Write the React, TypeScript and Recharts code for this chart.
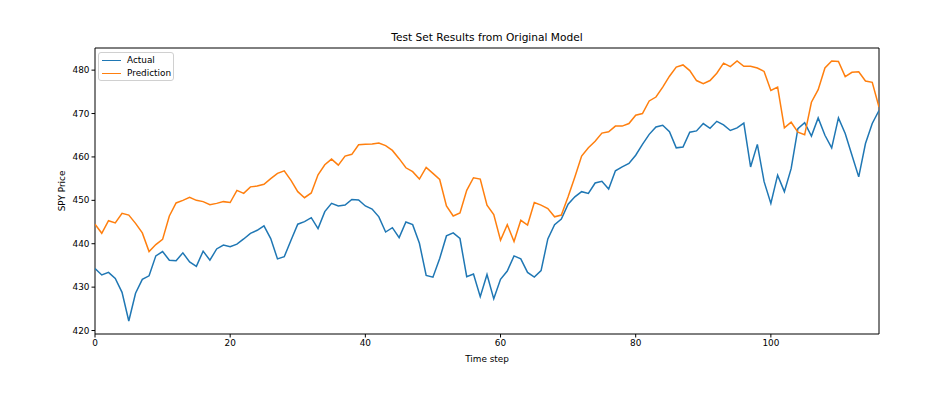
import { LineChart, Line, XAxis, YAxis, ReferenceArea } from "recharts"

const actual = [
  434.3, 432.8, 433.4, 432.0, 428.8, 422.2, 428.6, 431.8, 432.6, 437.2,
  438.2, 436.2, 436.1, 437.9, 435.8, 434.8, 438.3, 436.2, 438.8, 439.7,
  439.3, 439.9, 441.1, 442.4, 443.1, 444.1, 441.2, 436.5, 437.0, 440.8,
  444.5, 445.1, 446.0, 443.5, 447.4, 449.3, 448.7, 448.9, 450.2, 450.1,
  448.7, 448.0, 446.2, 442.7, 443.7, 441.4, 445.0, 444.4, 440.1, 432.7,
  432.3, 436.6, 441.8, 442.5, 441.2, 432.4, 433.0, 427.8, 432.9, 427.3,
  431.8, 433.7, 437.2, 436.5, 433.4, 432.3, 433.8, 441.1, 444.4, 445.7,
  449.1, 450.8, 452.0, 451.6, 454.0, 454.4, 452.6, 456.8, 457.7, 458.5,
  460.4, 462.9, 465.2, 466.9, 467.3, 465.8, 462.1, 462.3, 465.7, 466.0,
  467.7, 466.6, 468.2, 467.4, 466.1, 466.7, 467.8, 457.7, 462.9, 454.3,
  449.3, 455.8, 452.0, 457.3, 466.5, 467.9, 464.8, 469.0, 465.0, 462.1,
  469.0, 465.4, 460.4, 455.4, 463.1, 467.7, 470.7,
]

const prediction = [
  444.5, 442.4, 445.3, 444.8, 447.0, 446.6, 444.7, 442.5, 438.2, 439.8,
  441.0, 446.4, 449.4, 450.0, 450.7, 450.0, 449.7, 449.0, 449.3, 449.7,
  449.5, 452.3, 451.6, 453.1, 453.3, 453.7, 455.0, 456.2, 456.8, 454.6,
  452.0, 450.6, 451.7, 455.9, 458.2, 459.5, 458.1, 460.2, 460.6, 462.8,
  462.9, 463.0, 463.2, 462.6, 461.5, 459.6, 457.5, 456.6, 454.9, 457.6,
  456.2, 454.8, 448.7, 446.4, 447.1, 452.3, 455.2, 454.9, 448.9, 446.7,
  440.8, 444.4, 440.5, 445.4, 444.3, 449.5, 448.9, 448.1, 446.2, 446.6,
  450.8, 455.4, 460.2, 462.1, 463.6, 465.5, 465.8, 467.1, 467.1, 467.7,
  469.6, 470.0, 472.9, 473.8, 476.1, 478.6, 480.7, 481.2, 479.9, 477.6,
  476.9, 477.6, 479.3, 481.6, 480.8, 482.1, 480.9, 480.9, 480.5, 479.7,
  475.3, 476.1, 466.7, 468.0, 465.7, 465.1, 472.6, 475.5, 480.5, 482.1,
  482.0, 478.5, 479.5, 479.6, 477.5, 477.2, 471.5,
]

const xTicks = [0, 20, 40, 60, 80, 100]
const yTicks = [420, 430, 440, 450, 460, 470, 480]
const seriesNames = ["Actual", "Prediction"]

const BLUE = "#1f77b4"
const ORANGE = "#ff7f0e"
const FONT = "DejaVu Sans, sans-serif"
const SMALL = 8.9

const data = actual.map((v, i) => ({ step: i, actual: v, prediction: prediction[i] }))

// matplotlib-style legend box, drawn over the plot
const LegendBox = () => (
  <div
    style={{
      position: "absolute",
      left: 98,
      top: 52,
      width: 76,
      height: 29,
      boxSizing: "border-box",
      border: "1px solid #d0d0d0",
      borderRadius: 3,
      background: "#fff",
      padding: "1px 0 0 3px",
      fontFamily: FONT,
      fontSize: SMALL,
      color: "#000",
      lineHeight: "12.7px",
      zIndex: 2,
    }}
  >
    {seriesNames.map((name, i) => (
      <div key={name} style={{ display: "flex", alignItems: "center" }}>
        <span
          style={{
            display: "inline-block",
            width: 19,
            height: 0,
            borderTop: `1.5px solid ${i === 0 ? BLUE : ORANGE}`,
            marginRight: 6,
          }}
        />
        <span>{name}</span>
      </div>
    ))}
  </div>
)

export default function App() {
  return (
    <div style={{ position: "absolute", left: 0, top: 0, width: 950, height: 400, background: "#fff" }}>
      <div
        style={{
          position: "absolute",
          left: 95,
          width: 784,
          top: 31,
          textAlign: "center",
          fontFamily: FONT,
          fontSize: 10.6,
          color: "#000",
        }}
      >
        Test Set Results from Original Model
      </div>
      <LineChart width={950} height={400} data={data} margin={{ top: 48, right: 71, bottom: 0, left: 0 }}>
        <XAxis
          dataKey="step"
          type="number"
          domain={[0, 116]}
          ticks={xTicks}
          allowDataOverflow
          height={66}
          tickSize={3.5}
          tickLine={{ stroke: "#000" }}
          axisLine={false}
          tick={{ fontSize: SMALL, fill: "#000", fontFamily: FONT }}
          label={{ value: "Time step", position: "insideBottom", offset: 38, style: { fontSize: SMALL, fill: "#000", fontFamily: FONT } }}
        />
        <YAxis
          type="number"
          domain={[419.2, 485.1]}
          ticks={yTicks}
          allowDataOverflow
          width={95}
          tickSize={3.5}
          tickLine={{ stroke: "#000" }}
          axisLine={false}
          tick={{ fontSize: SMALL, fill: "#000", fontFamily: FONT }}
          label={{
            value: "SPY Price",
            angle: -90,
            position: "insideLeft",
            offset: 62,
            style: { fontSize: SMALL, fill: "#000", fontFamily: FONT, textAnchor: "middle" },
          }}
        />
        <Line dataKey="actual" name="Actual" stroke={BLUE} strokeWidth={1.5} dot={false} type="linear" isAnimationActive={false} />
        <Line dataKey="prediction" name="Prediction" stroke={ORANGE} strokeWidth={1.5} dot={false} type="linear" isAnimationActive={false} />
        <ReferenceArea x1={0} x2={116} y1={419.2} y2={485.1} fill="none" stroke="#000" strokeWidth={1} ifOverflow="visible" />
      </LineChart>
      <LegendBox />
    </div>
  )
}
